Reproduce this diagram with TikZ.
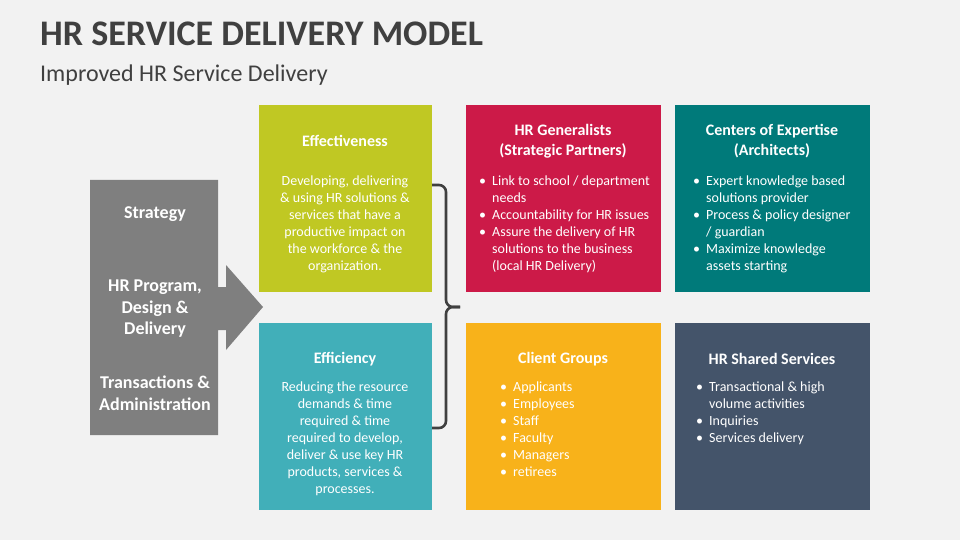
\documentclass[tikz,border=0pt]{standalone}
\usepackage{fontspec}
\setmainfont{Carlito}
\definecolor{bgc}{RGB}{242,242,242}
\definecolor{titc}{RGB}{64,64,64}
\definecolor{grayc}{RGB}{127,127,127}
\definecolor{effc}{RGB}{192,200,35}
\definecolor{efic}{RGB}{65,175,185}
\definecolor{genc}{RGB}{204,26,72}
\definecolor{coec}{RGB}{0,122,122}
\definecolor{clic}{RGB}{248,178,26}
\definecolor{shsc}{RGB}{68,84,106}
\newcommand{\bl}[1]{\makebox[13pt][l]{\textbullet}#1}
\newcommand{\cn}[1]{\hspace*{13pt}#1}
\tikzset{
  box/.style={fill=#1, minimum width=173pt, minimum height=187pt, inner sep=0pt, outer sep=0pt, draw=none},
  wbox/.style={fill=#1, minimum width=195pt, minimum height=187pt, inner sep=0pt, outer sep=0pt, draw=none},
  btitle/.style={text=white, font=\fontsize{16}{20}\selectfont\bfseries, align=center, inner sep=0pt},
  body/.style={text=white, font=\fontsize{14}{17}\selectfont, align=center, inner sep=0pt, anchor=north},
  blist/.style={text=white, font=\fontsize{14}{17}\selectfont, align=left, inner sep=0pt, anchor=north west},
  gtext/.style={text=white, font=\fontsize{18}{21.5}\selectfont\bfseries, align=center, inner sep=0pt},
  bracec/.style={draw=titc, line width=2.6pt, rounded corners=7pt}
}
\begin{document}
\begin{tikzpicture}[x=1pt,y=-1pt]
\fill[bgc] (0,0) rectangle (960,540);
\useasboundingbox (0,0) rectangle (960,540);

% titles
\node[anchor=base west, inner sep=0pt, text=titc, font=\fontsize{36}{40}\selectfont\bfseries] (title) at (40,46) {HR SERVICE DELIVERY MODEL};
\node[anchor=base west, inner sep=0pt, text=titc, font=\fontsize{24}{28}\selectfont] (subtitle) at (40,82) {Improved HR Service Delivery};

% gray arrow
\fill[grayc] (90,180) -- (218,180) -- (218,287) -- (226,287) -- (226,265) -- (263,307) -- (226,350) -- (226,330) -- (218,330) -- (218,435) -- (90,435) -- cycle;
\node[gtext] (strat) at (155,214) {Strategy};
\node[gtext] (prog) at (155,309) {HR Program,\\Design \&\\Delivery};
\node[gtext] (trans) at (155,393) {Transactions \&\\Administration};

% boxes
\node[box=effc] (eff) at (345.5,198.5) {};
\node[box=efic] (efi) at (345.5,416.5) {};
\node[wbox=genc] (gen) at (563.5,198.5) {};
\node[wbox=coec] (coe) at (772.5,198.5) {};
\node[wbox=clic] (cli) at (563.5,416.5) {};
\node[wbox=shsc] (shs) at (772,416.5) {};

% brace
\coordinate (bt) at (eff.east |- 0,185);
\coordinate (bb) at (efi.east |- 0,428);
\coordinate (btip) at (460,307);
\draw[bracec] (bt) -- (446,185) -- (446,307) -- (btip);
\draw[bracec] (bb) -- (446,428) -- (446,307) -- (btip);

% Effectiveness
\node[btitle] (efft) at (345,141) {Effectiveness};
\node[body] (effb) at (345,176) {Developing, delivering\\\& using HR solutions \&\\services that have a\\productive impact on\\the workforce \& the\\organization.};

% Efficiency
\node[btitle] (efit) at (345,359) {Efficiency};
\node[body] (efib) at (345,382) {Reducing the resource\\demands \& time\\required \& time\\required to develop,\\deliver \& use key HR\\products, services \&\\processes.};

% HR Generalists
\node[btitle] (gent) at (563,141) {HR Generalists\\(Strategic Partners)};
\node[blist] (genb) at (479,176) {\bl{Link to school / department}\\\cn{needs}\\\bl{Accountability for HR issues}\\\bl{Assure the delivery of HR}\\\cn{solutions to the business}\\\cn{(local HR Delivery)}};

% Centers of Expertise
\node[btitle] (coet) at (772,141) {Centers of Expertise\\(Architects)};
\node[blist] (coeb) at (693,176) {\bl{Expert knowledge based}\\\cn{solutions provider}\\\bl{Process \& policy designer}\\\cn{/ guardian}\\\bl{Maximize knowledge}\\\cn{assets starting}};

% Client Groups
\node[btitle] (clit) at (563,359) {Client Groups};
\node[blist] (clib) at (500,382) {\bl{Applicants}\\\bl{Employees}\\\bl{Staff}\\\bl{Faculty}\\\bl{Managers}\\\bl{retirees}};

% HR Shared Services
\node[btitle] (shst) at (772,359) {HR Shared Services};
\node[blist] (shsb) at (696,382) {\bl{Transactional \& high}\\\cn{volume activities}\\\bl{Inquiries}\\\bl{Services delivery}};
\end{tikzpicture}
\end{document}
